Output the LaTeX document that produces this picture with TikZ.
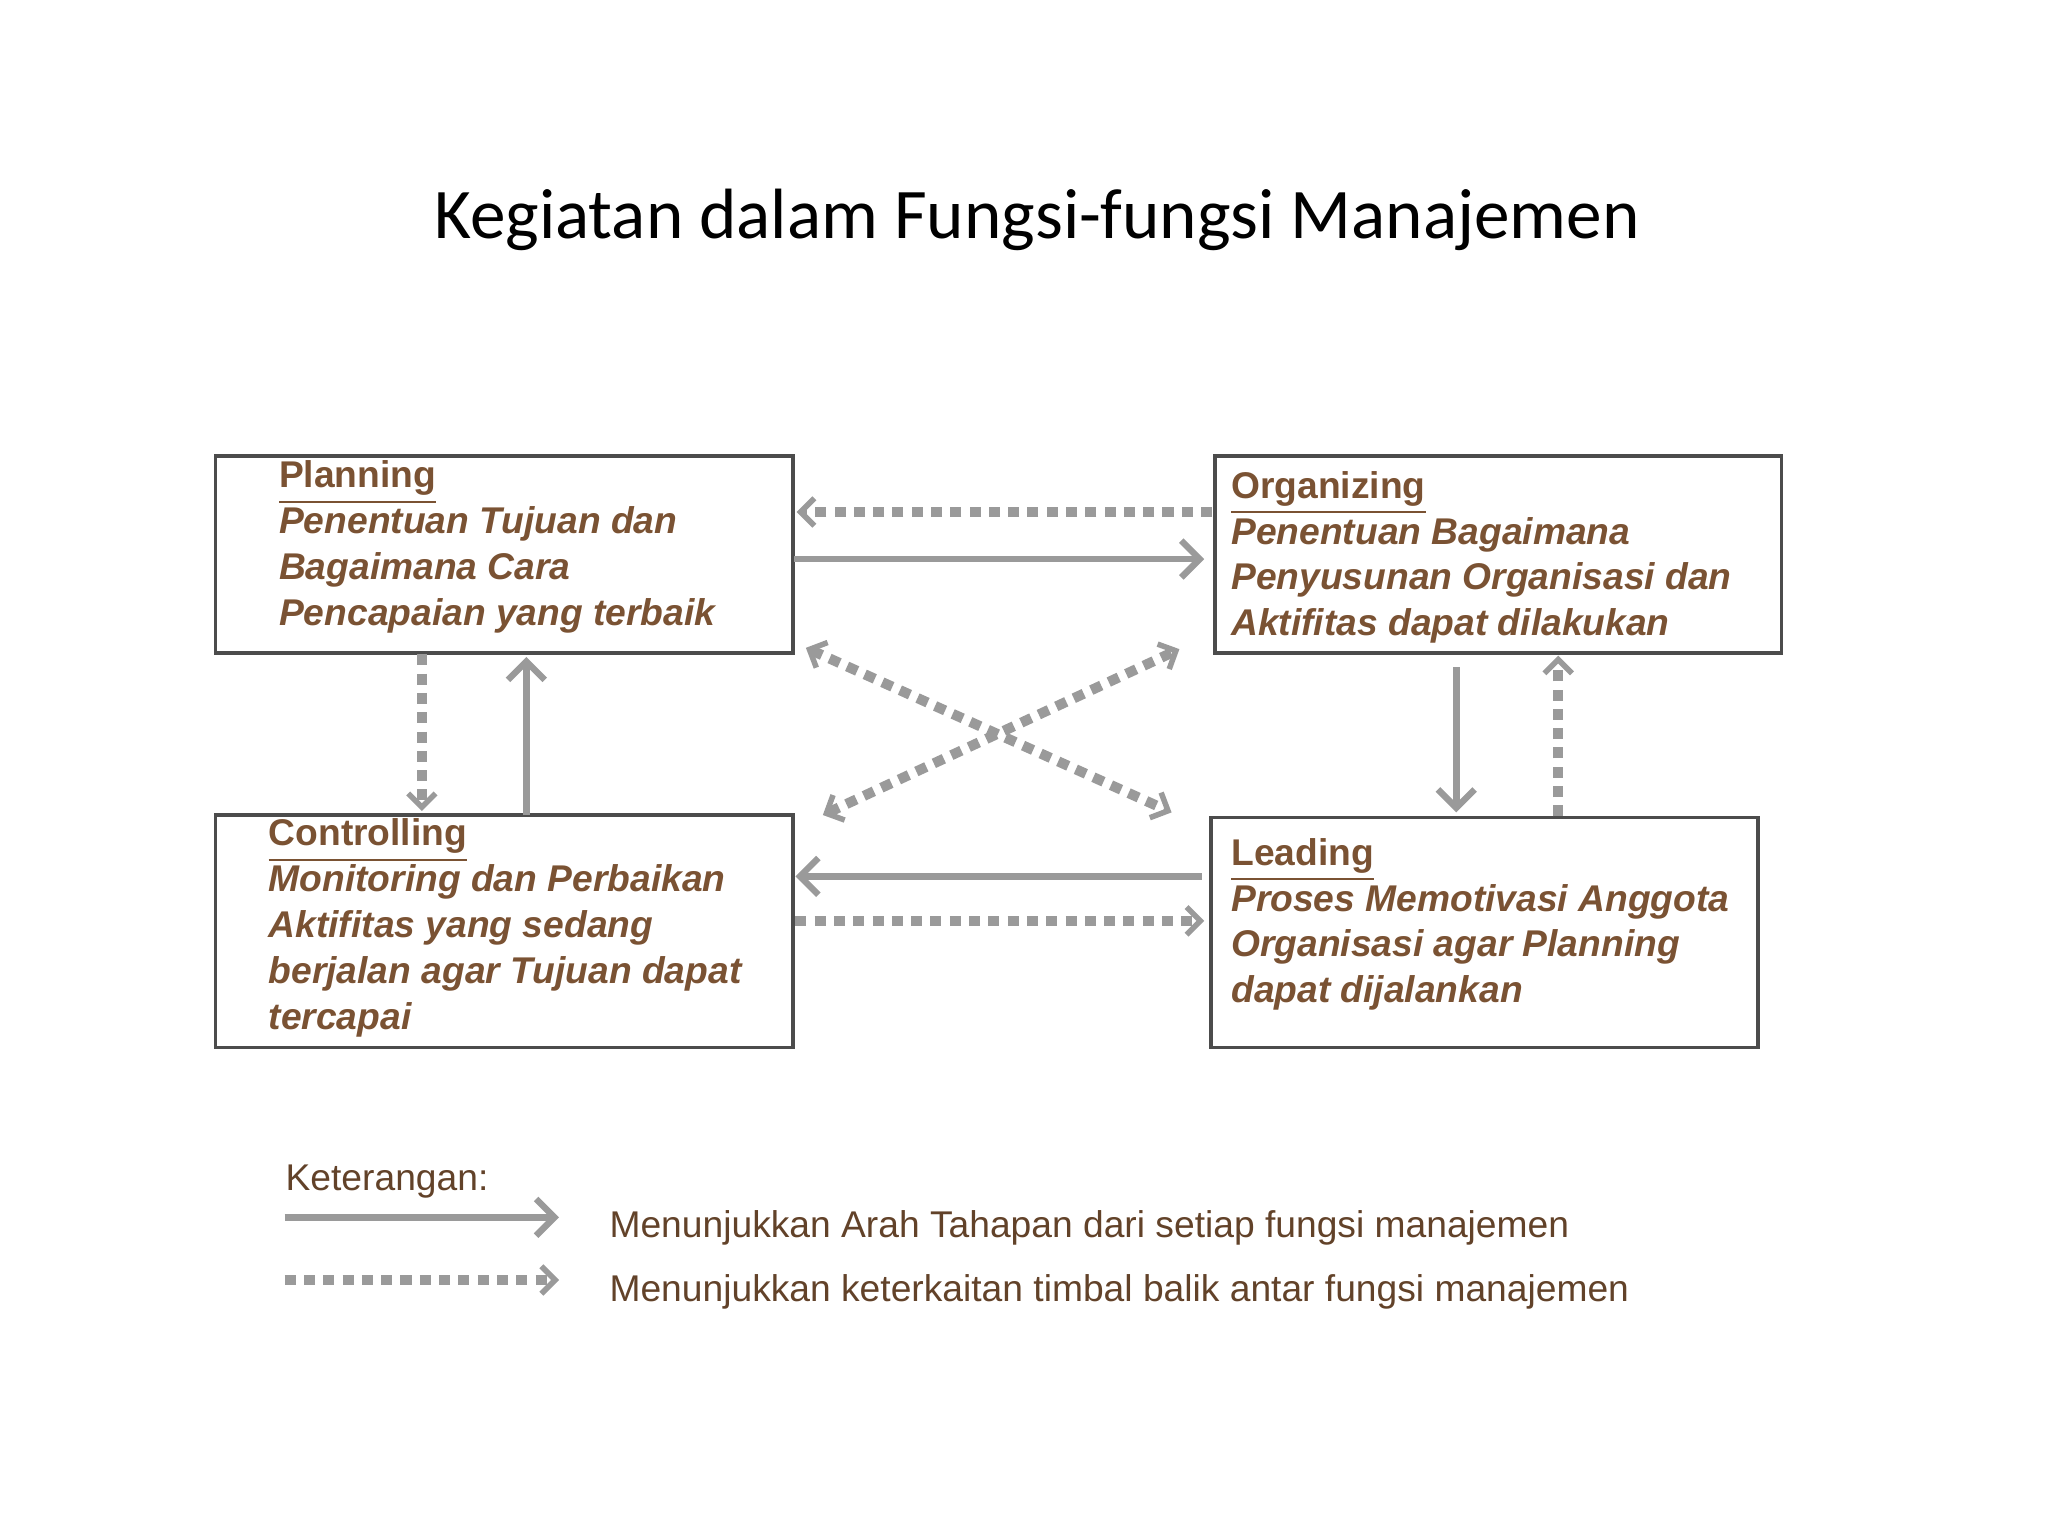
\documentclass[tikz,border=0pt]{standalone}
\usepackage{fontspec}
\setmainfont{Liberation Sans}
\newfontfamily\titlefont{Carlito}
\usetikzlibrary{arrows.meta}
\definecolor{txtbrown}{HTML}{7A5233}
\definecolor{arrgray}{HTML}{9A9A9A}
\newcommand{\hd}[1]{{\upshape\underline{#1}}}
\begin{document}
\begin{tikzpicture}[x=0.01cm,y=-0.01cm,
  box/.style={draw=black!70,line width=0.8pt},
  lbl/.style={anchor=north west,align=left,inner sep=0pt,text=txtbrown,font=\fontsize{8.1}{10}\selectfont\bfseries\itshape},
  sol/.style={draw=arrgray,line width=1.4pt,-{Straight Barb[length=4pt,width=8pt]}},
  dsh/.style={draw=arrgray,line width=2.2pt,dash pattern=on 2.4pt off 1.8pt,-{Straight Barb[length=3pt,width=6pt,line width=1.2pt]}},
  dshb/.style={dsh,{Straight Barb[length=3pt,width=6pt,line width=1.2pt]}-{Straight Barb[length=3pt,width=6pt,line width=1.2pt]}},
  leg/.style={anchor=west,inner sep=0pt,text=txtbrown!80!black,font=\fontsize{8.1}{10}\selectfont}]
\useasboundingbox (0,0) rectangle (1568,1176);
\node[font=\titlefont\fontsize{15.5}{18}\selectfont] (title) at (794,168) {Kegiatan dalam Fungsi-fungsi Manajemen};
\draw[box] (165,349) rectangle (607,500);
\draw[box] (930,349) rectangle (1364,500);
\draw[box] (165,624) rectangle (607,802);
\draw[box] (927,626) rectangle (1346,802);
\node[lbl] (pl) at (213,352) {\hd{Planning}\\Penentuan Tujuan dan\\Bagaimana Cara\\Pencapaian yang terbaik};
\node[lbl] (or) at (942,360) {\hd{Organizing}\\Penentuan Bagaimana\\Penyusunan Organisasi dan\\Aktifitas dapat dilakukan};
\node[lbl] (co) at (205,626) {\hd{Controlling}\\Monitoring dan Perbaikan\\Aktifitas yang sedang\\berjalan agar Tujuan dapat\\tercapai};
\node[lbl] (le) at (942,641) {\hd{Leading}\\Proses Memotivasi Anggota\\Organisasi agar Planning\\dapat dijalankan};
\coordinate (a1) at (928,392); \coordinate (a2) at (610,392);
\draw[dsh] (a1) -- (a2);
\coordinate (b1) at (608,428); \coordinate (b2) at (922,428);
\draw[sol] (b1) -- (b2);
\coordinate (c1) at (617,496); \coordinate (c2) at (897,622);
\draw[dshb] (c1) -- (c2);
\coordinate (d1) at (630,624); \coordinate (d2) at (903,497);
\draw[dshb] (d1) -- (d2);
\coordinate (e1) at (323,501); \coordinate (e2) at (323,621);
\draw[dsh] (e1) -- (e2);
\coordinate (f1) at (403,624); \coordinate (f2) at (403,503);
\draw[sol] (f1) -- (f2);
\coordinate (g1) at (1115,511); \coordinate (g2) at (1115,622);
\draw[sol] (g1) -- (g2);
\coordinate (h1) at (1193,625); \coordinate (h2) at (1193,502);
\draw[dsh] (h1) -- (h2);
\coordinate (i1) at (920,671); \coordinate (i2) at (609,671);
\draw[sol] (i1) -- (i2);
\coordinate (j1) at (609,705); \coordinate (j2) at (922,705);
\draw[dsh] (j1) -- (j2);
\node[leg] (ket) at (218,905) {Keterangan:};
\coordinate (k1) at (218,932); \coordinate (k2) at (428,932);
\draw[sol] (k1) -- (k2);
\node[leg] (l1) at (466,940) {Menunjukkan Arah Tahapan dari setiap fungsi manajemen};
\coordinate (m1) at (218,980); \coordinate (m2) at (428,980);
\draw[dsh] (m1) -- (m2);
\node[leg] (l2) at (466,989) {Menunjukkan keterkaitan timbal balik antar fungsi manajemen};
\end{tikzpicture}
\end{document}
